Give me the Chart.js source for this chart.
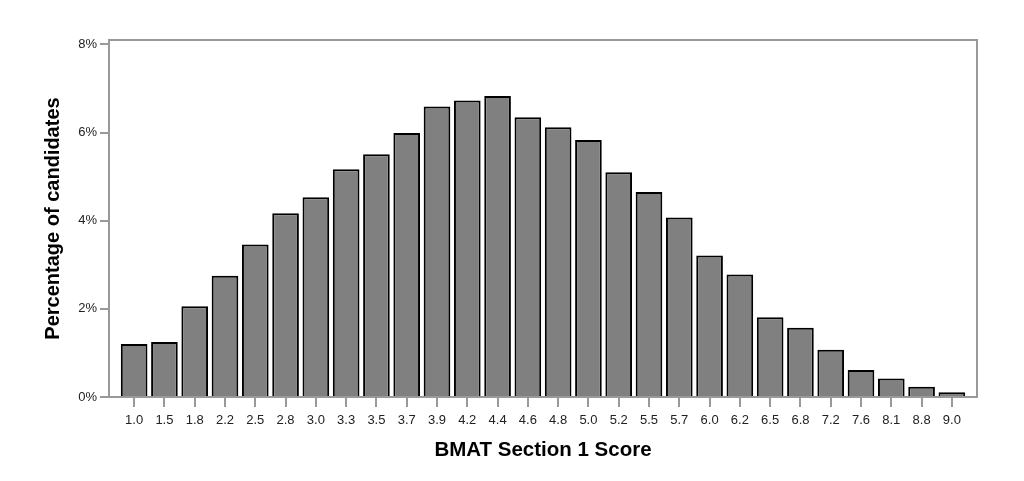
<!DOCTYPE html>
<html>
<head>
<meta charset="utf-8">
<title>BMAT Section 1 Score</title>
<script src="https://cdn.jsdelivr.net/npm/chart.js@4/dist/chart.umd.min.js"></script>
<style>
  html, body { margin: 0; padding: 0; background: #fff; }
  #wrap { width: 1024px; height: 481px; position: relative; }
</style>
</head>
<body>
<div id="wrap"><canvas id="scoreChart"></canvas></div>
<script>
// score bands on the x axis
const scoreLabels = ['1.0', '1.5', '1.8', '2.2', '2.5', '2.8', '3.0', '3.3', '3.5', '3.7',
    '3.9', '4.2', '4.4', '4.6', '4.8', '5.0', '5.2', '5.5', '5.7', '6.0',
    '6.2', '6.5', '6.8', '7.2', '7.6', '8.1', '8.8', '9.0'];
// percentage of candidates in each band
const candidatePct = [1.20, 1.25, 2.06, 2.75, 3.46, 4.17, 4.53, 5.17, 5.51, 5.99,
    6.59, 6.73, 6.83, 6.35, 6.12, 5.83, 5.10, 4.65, 4.07, 3.21,
    2.78, 1.81, 1.57, 1.07, 0.61, 0.42, 0.23, 0.11];
const yTicks = [0, 2, 4, 6, 8];

const tickFont = { family: 'Liberation Sans, Arial, sans-serif', size: 13 };
const titleFont = { family: 'Liberation Sans, Arial, sans-serif', weight: 'bold' };

// top + right edge of the plot box
const framePlugin = {
    id: 'frame',
    afterDraw(chart) {
        const { ctx, chartArea: a } = chart;
        ctx.save();
        ctx.strokeStyle = '#999';
        ctx.lineWidth = 2;
        ctx.beginPath();
        ctx.moveTo(a.left, a.top);
        ctx.lineTo(a.right, a.top);
        ctx.lineTo(a.right, a.bottom);
        ctx.stroke();
        ctx.restore();
    }
};

const ctx = document.getElementById('scoreChart').getContext('2d');
new Chart(ctx, {
    type: 'bar',
    data: {
        datasets: [{
            data: candidatePct.map((v, i) => ({ x: i, y: v })),
            backgroundColor: '#808080',
            borderColor: '#000',
            borderWidth: 2,
            barPercentage: 0.88,
            categoryPercentage: 1
        }]
    },
    options: {
        responsive: true,
        maintainAspectRatio: false,
        animation: false,
        layout: { padding: { top: 40, right: 47, left: 0, bottom: 0 } },
        plugins: {
            legend: { display: false },
            tooltip: { enabled: false }
        },
        scales: {
            x: {
                type: 'linear',
                offset: false,
                min: -0.83,
                max: 27.83,
                afterBuildTicks: scale => { scale.ticks = scoreLabels.map((_, i) => ({ value: i })); },
                afterFit: scale => { scale.height = 84; },
                ticks: {
                    autoSkip: false,
                    maxRotation: 0,
                    padding: 6,
                    color: '#222',
                    font: tickFont,
                    callback: value => scoreLabels[value]
                },
                grid: {
                    offset: false,
                    drawOnChartArea: false,
                    drawTicks: true,
                    tickLength: 10,
                    color: '#999',
                    lineWidth: 2
                },
                border: { display: true, color: '#999', width: 2 },
                title: {
                    display: true,
                    text: 'BMAT Section 1 Score',
                    color: '#000',
                    font: Object.assign({ size: 20.5 }, titleFont),
                    padding: { top: 0, bottom: 18 }
                }
            },
            y: {
                min: 0,
                max: 8.1,
                afterBuildTicks: scale => { scale.ticks = yTicks.map(v => ({ value: v })); },
                afterFit: scale => { scale.width = 109; },
                ticks: {
                    padding: 3,
                    color: '#222',
                    font: tickFont,
                    callback: value => value + '%'
                },
                grid: {
                    drawOnChartArea: false,
                    drawTicks: true,
                    tickLength: 9,
                    color: '#999',
                    lineWidth: 2
                },
                border: { display: true, color: '#999', width: 2 },
                title: {
                    display: true,
                    text: 'Percentage of candidates',
                    color: '#000',
                    font: Object.assign({ size: 20 }, titleFont),
                    padding: { top: 41, bottom: 0 }
                }
            }
        }
    },
    plugins: [framePlugin]
});
</script>
</body>
</html>
